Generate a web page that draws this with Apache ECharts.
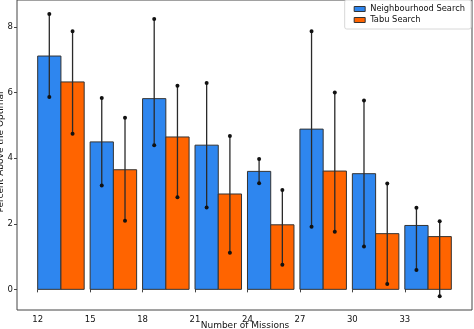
<!DOCTYPE html>
<html>
<head>
<meta charset="utf-8">
<script src="https://cdn.jsdelivr.net/npm/echarts@6/dist/echarts.min.js"></script>
<style>
  html, body { margin: 0; padding: 0; background: #fff; }
  #chart { width: 474px; height: 329px; }
</style>
</head>
<body>
<div id="chart"></div>
<script>
// Mission counts (left edge of each bar pair)
const missions = [12, 15, 18, 21, 24, 27, 30, 33];

// Mean percent above the optimal solution
const neighbourhood = [7.12, 4.50, 5.82, 4.40, 3.60, 4.89, 3.53, 1.95];
const tabu          = [6.33, 3.65, 4.65, 2.91, 1.97, 3.61, 1.70, 1.61];

// Error bar extents (low / high)
const neighbourhoodLow  = [5.87, 3.17, 4.40, 2.50, 3.24, 1.91, 1.31, 0.59];
const neighbourhoodHigh = [8.40, 5.84, 8.25, 6.30, 3.98, 7.88, 5.76, 2.49];
const tabuLow  = [4.75, 2.09, 2.81, 1.12, 0.75, 1.76, 0.16, -0.21];
const tabuHigh = [7.88, 5.24, 6.21, 4.68, 3.03, 6.01, 3.23, 2.08];

// Tick labels
const xTicks = [12, 15, 18, 21, 24, 27, 30, 33];
const yTicks = [0, 2, 4, 6, 8];

const BAR_W = 1.33;
const BLUE = '#2e86ef';
const ORANGE = '#ff6400';
const FONT = 'DejaVu Sans';

function barRenderer(offset, color) {
  return function (params, api) {
    const x = api.value(0) + offset;
    const v = api.value(1);
    const p0 = api.coord([x, 0]);
    const p1 = api.coord([x + BAR_W, v]);
    return {
      type: 'rect',
      shape: {
        x: p0[0], y: Math.min(p0[1], p1[1]),
        width: p1[0] - p0[0], height: Math.abs(p1[1] - p0[1])
      },
      style: { fill: color, stroke: '#333', lineWidth: 1 }
    };
  };
}

function errRenderer(offset) {
  return function (params, api) {
    const x = api.value(0) + offset + BAR_W / 2;
    const lo = api.coord([x, api.value(1)]);
    const hi = api.coord([x, api.value(2)]);
    const st = { fill: '#111' };
    return {
      type: 'group',
      children: [
        { type: 'line', shape: { x1: lo[0], y1: lo[1], x2: hi[0], y2: hi[1] },
          style: { stroke: '#2a2a2a', lineWidth: 1.3 } },
        { type: 'circle', shape: { cx: lo[0], cy: lo[1], r: 2 }, style: st },
        { type: 'circle', shape: { cx: hi[0], cy: hi[1], r: 2 }, style: st }
      ]
    };
  };
}

const chart = echarts.init(document.getElementById('chart'), null, { renderer: 'canvas' });

chart.setOption({
  animation: false,
  backgroundColor: '#fff',
  textStyle: { fontFamily: FONT },
  grid: {
    left: 17, right: 2, top: -1, bottom: 19,
    show: true, borderColor: '#444', borderWidth: 1, backgroundColor: 'transparent'
  },
  legend: {
    orient: 'vertical',
    right: 3, top: 0,
    padding: [5, 6, 5, 9],
    itemGap: 3,
    itemWidth: 11, itemHeight: 5,
    backgroundColor: '#fff',
    borderColor: '#d8d8d8', borderWidth: 1, borderRadius: 2,
    textStyle: { fontFamily: FONT, fontSize: 8.3, color: '#111', padding: [0, 0, 0, 0] },
    data: [
      { name: 'Neighbourhood Search', icon: 'rect', itemStyle: { color: BLUE, borderColor: '#333', borderWidth: 1 } },
      { name: 'Tabu Search', icon: 'rect', itemStyle: { color: ORANGE, borderColor: '#333', borderWidth: 1 } }
    ]
  },
  xAxis: {
    type: 'value',
    min: 10.817, max: 36.843,
    splitLine: { show: false },
    axisLine: { show: false },
    axisTick: { show: true, length: 3, lineStyle: { color: '#444' }, customValues: xTicks },
    axisLabel: { customValues: xTicks, fontSize: 8.5, color: '#111', margin: 5, fontFamily: FONT }
  },
  yAxis: {
    type: 'value',
    min: -0.63, max: 8.83,
    splitLine: { show: false },
    axisLine: { show: false },
    axisTick: { show: true, length: 3, lineStyle: { color: '#444' }, customValues: yTicks },
    axisLabel: { customValues: yTicks, fontSize: 8.5, color: '#111', margin: 4, fontFamily: FONT }
  },
  graphic: [
    {
      type: 'text', x: 1, y: 152, rotation: Math.PI / 2,
      style: { text: 'Percent Above the Optimal', fontFamily: FONT, fontSize: 9,
               fill: '#111', align: 'center', verticalAlign: 'middle' }
    },
    {
      type: 'text', x: 245, y: 326,
      style: { text: 'Number of Missions', fontFamily: FONT, fontSize: 9,
               fill: '#111', align: 'center', verticalAlign: 'middle' }
    }
  ],
  series: [
    {
      name: 'Neighbourhood Search', type: 'custom',
      itemStyle: { color: BLUE },
      renderItem: barRenderer(0, BLUE),
      data: missions.map((m, i) => [m, neighbourhood[i]])
    },
    {
      name: 'Tabu Search', type: 'custom',
      itemStyle: { color: ORANGE },
      renderItem: barRenderer(BAR_W, ORANGE),
      data: missions.map((m, i) => [m, tabu[i]])
    },
    {
      name: 'Neighbourhood Search error', type: 'custom', z: 5,
      renderItem: errRenderer(0),
      data: missions.map((m, i) => [m, neighbourhoodLow[i], neighbourhoodHigh[i]])
    },
    {
      name: 'Tabu Search error', type: 'custom', z: 5,
      renderItem: errRenderer(BAR_W),
      data: missions.map((m, i) => [m, tabuLow[i], tabuHigh[i]])
    }
  ]
});
</script>
</body>
</html>
